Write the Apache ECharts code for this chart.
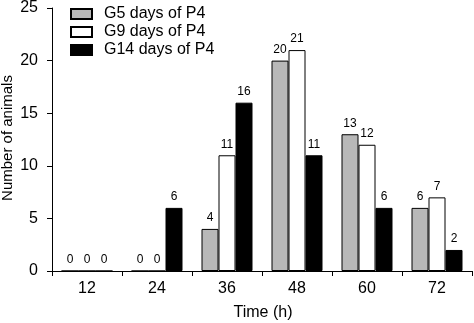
<!DOCTYPE html>
<html><head><meta charset="utf-8">
<script src="https://cdn.jsdelivr.net/npm/echarts@6/dist/echarts.min.js"></script>
<style>html,body{margin:0;padding:0;background:#fff}#c{width:474px;height:323px}</style>
</head><body><div id="c"></div>
<script>
const categories = ['12','24','36','48','60','72'];
const seriesNames = ['G5 days of P4','G9 days of P4','G14 days of P4'];
const g5 = [0,0,4,20,13,6];
const g9 = [0,0,11,21,12,7];
const g14 = [0,6,16,11,6,2];
const yTicks = [0,5,10,15,20,25];
const xTitle = 'Time (h)';
const yTitle = 'Number of animals';
const colors = ['#b8b8b8','#ffffff','#000000'];
const F = 'Liberation Sans, Arial, sans-serif';
const chart = echarts.init(document.getElementById('c'));
const data = [g5,g9,g14];
chart.setOption({
  animation:false,
  grid:{left:52,right:2,top:6,bottom:52,containLabel:false},
  graphic:[
    {type:'text',x:263,y:313,style:{text:xTitle,fontFamily:F,fontSize:16,fill:'#000',align:'center',verticalAlign:'middle'}},
    {type:'text',x:8,y:138,rotation:Math.PI/2,style:{text:yTitle,fontFamily:F,fontSize:15,fill:'#000',align:'center',verticalAlign:'middle'}}
  ],
  legend:{orient:'vertical',left:70,top:5,padding:0,itemWidth:21,itemHeight:10,itemGap:0,icon:'rect',
    formatter: n => '{t|' + n + '}',
    textStyle:{fontFamily:F,fontSize:16,color:'#000',lineHeight:18,
      rich:{t:{fontFamily:F,fontSize:16,color:'#000',lineHeight:18,padding:[0,0,0,7]}}},
    data:seriesNames},
  xAxis:{type:'category',data:categories,
    axisLine:{show:true,lineStyle:{color:'#000',width:1}},
    axisTick:{show:true,length:5,alignWithLabel:false,lineStyle:{color:'#000'}},
    axisLabel:{fontFamily:F,fontSize:16,color:'#000',margin:10}},
  yAxis:{type:'value',min:yTicks[0],max:yTicks[yTicks.length-1],interval:5,
    axisLine:{show:true,lineStyle:{color:'#000',width:1}},
    axisTick:{show:true,length:5,lineStyle:{color:'#000',width:1}},
    splitLine:{show:false},
    axisLabel:{fontFamily:F,fontSize:16,color:'#000',margin:14}},
  series:seriesNames.map((n,i)=>({
    name:n,type:'bar',data:data[i],barWidth:17,barGap:'0%',
    itemStyle:{color:colors[i],borderColor:'#000',borderWidth:1},
    label:{show:true,position:'top',distance:5,fontFamily:F,fontSize:12,color:'#000'}
  }))
});
</script></body></html>
